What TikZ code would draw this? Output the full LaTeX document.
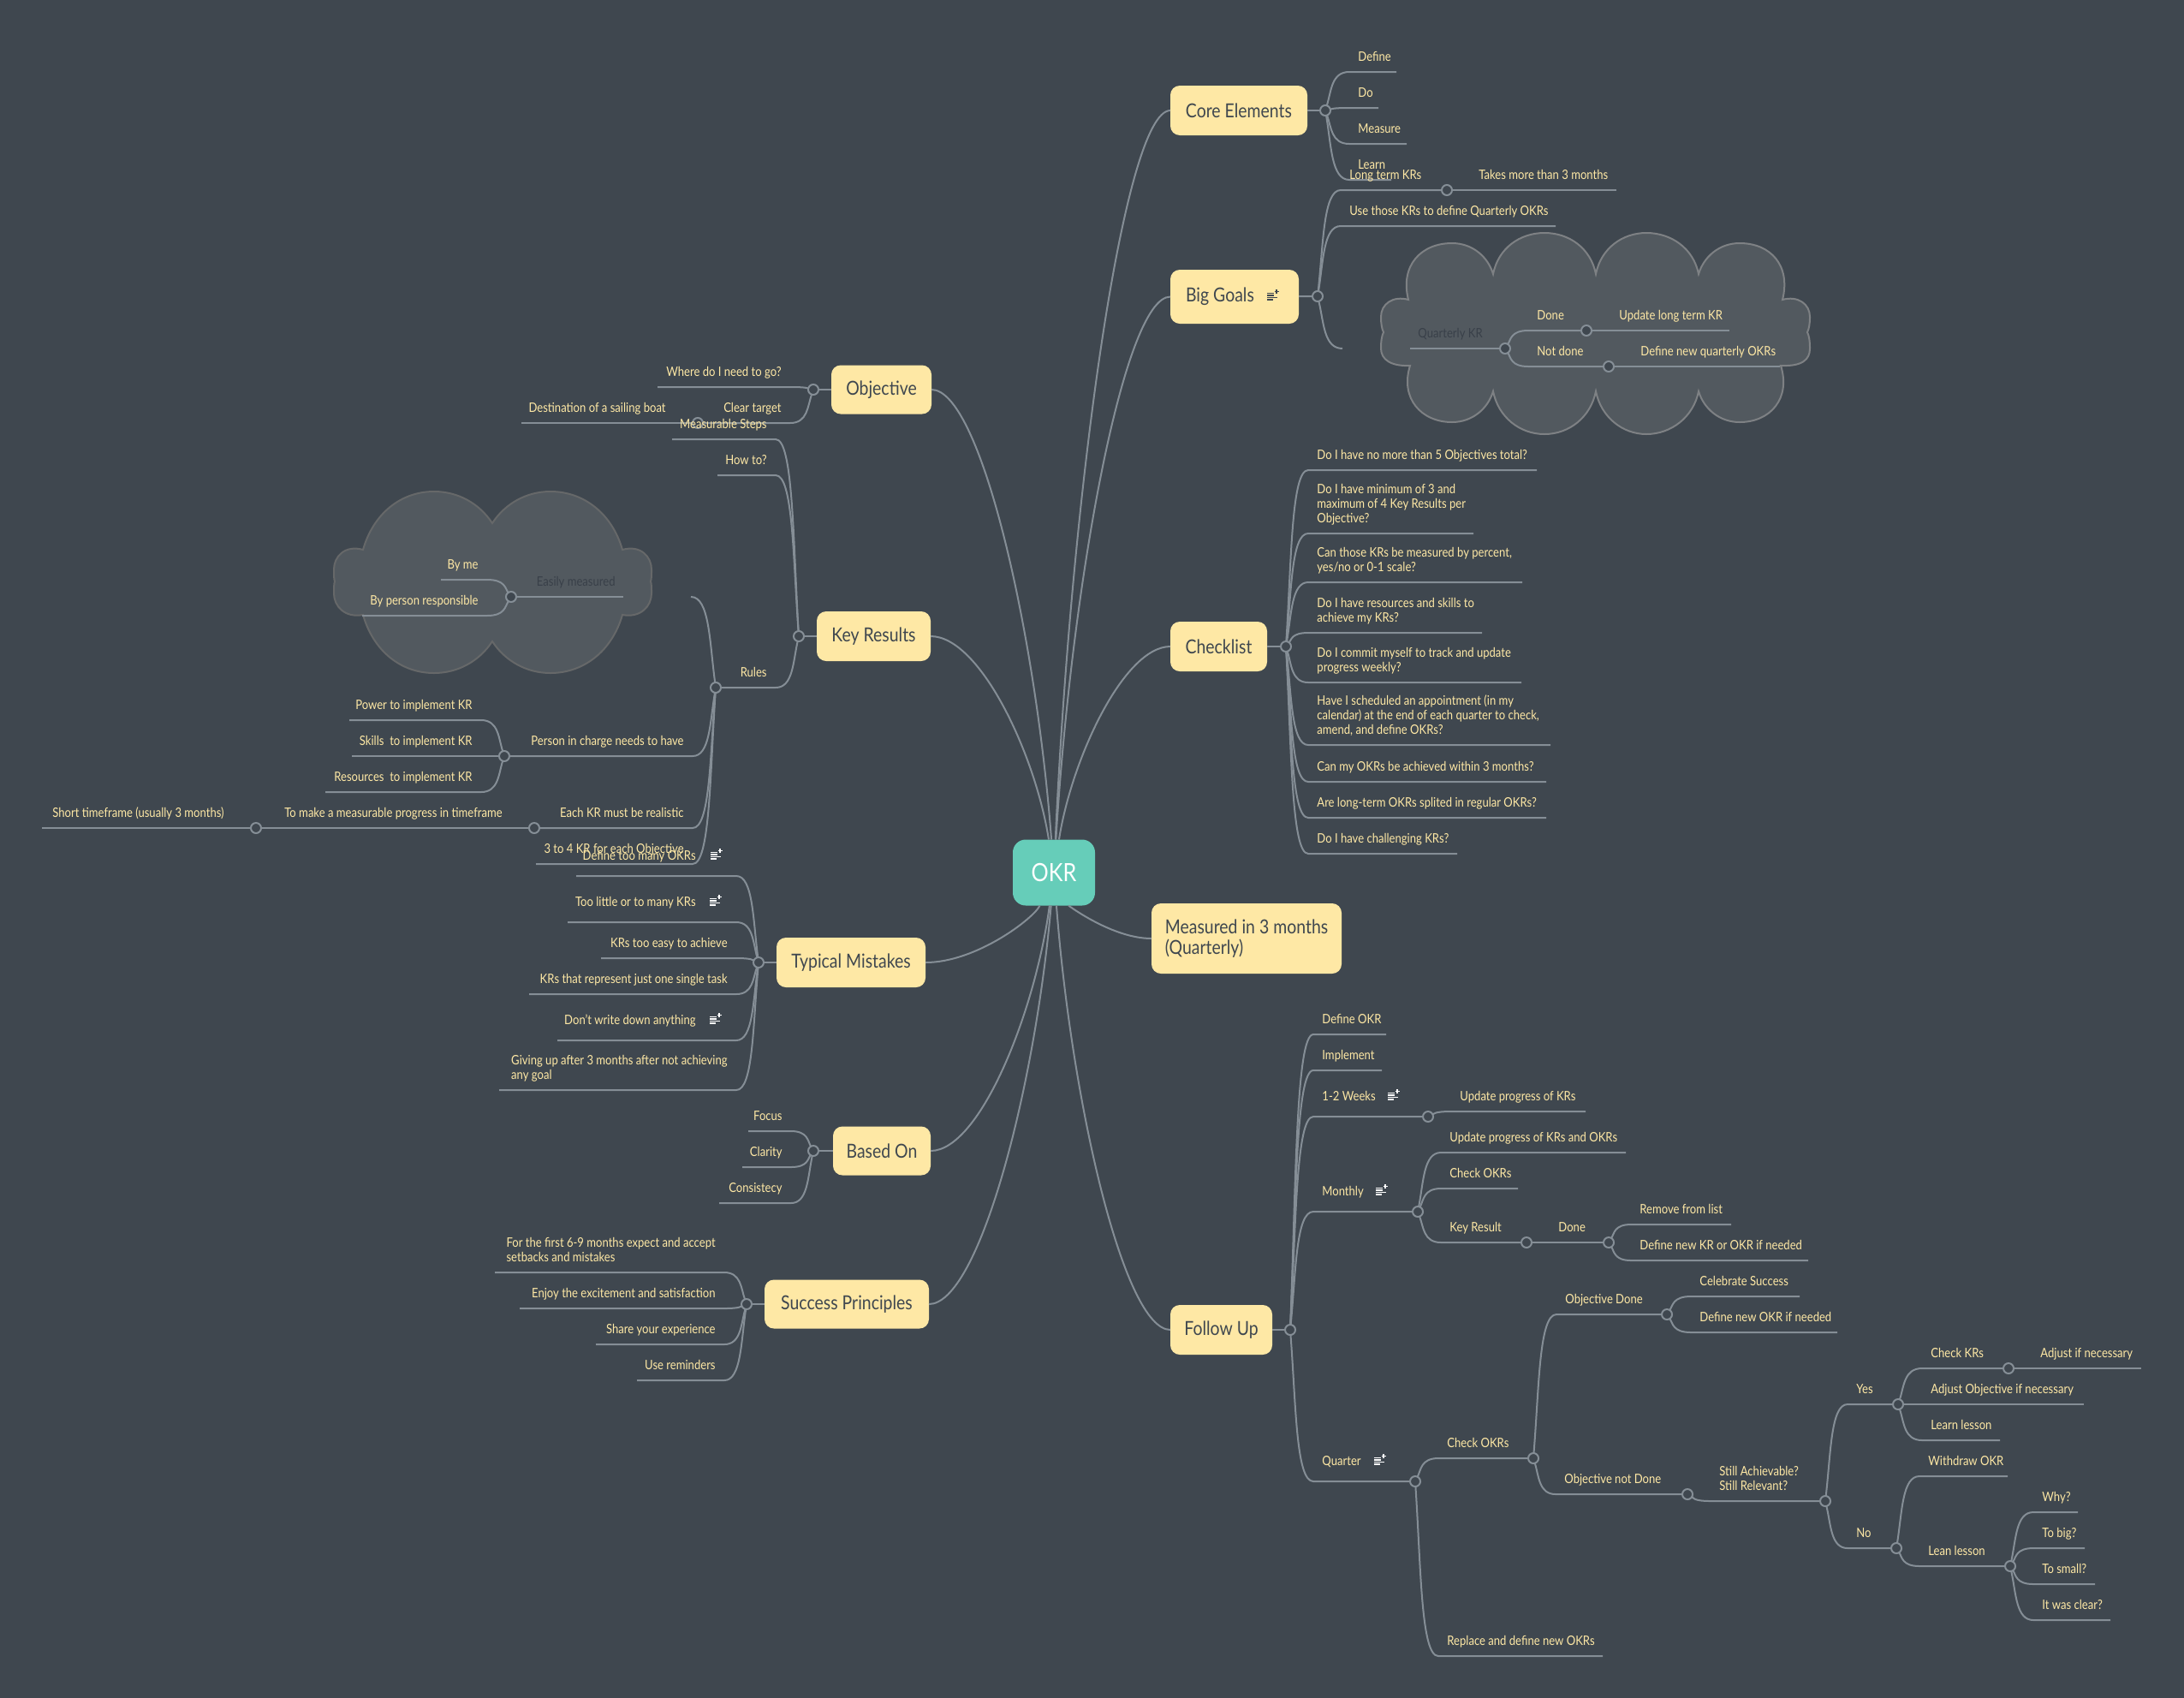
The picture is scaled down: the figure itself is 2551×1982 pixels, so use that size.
\documentclass[tikz,border=0pt]{standalone}
\usepackage{fontspec}
\setmainfont[FakeStretch=0.86]{Lato}
\usetikzlibrary{calc}
\definecolor{bgcol}{HTML}{3F474F}
\definecolor{linecol}{HTML}{858E96}
\definecolor{leafcol}{HTML}{FEE8A5}
\definecolor{inkcol}{HTML}{3F474F}
\definecolor{rootcol}{HTML}{66CDB9}
\definecolor{cloudcol}{HTML}{52595F}
\definecolor{cloudline}{HTML}{7E8184}
\definecolor{cloudlinetwo}{HTML}{666869}
\definecolor{darktext}{HTML}{394049}
\tikzset{
  link/.style={draw=linecol, line width=1pt},
  hub/.style={draw=linecol, circle, fill=bgcol, line width=1pt, minimum size=6pt, inner sep=0pt, outer sep=0pt},
  topic/.style={fill=leafcol, text=inkcol, rounded corners=5.5pt, inner sep=0pt, outer sep=0pt, font=\fontsize{11.3}{12}\selectfont},
  root/.style={fill=rootcol, text=white, rounded corners=7.5pt, inner sep=0pt, outer sep=0pt, font=\fontsize{14.65}{16}\selectfont},
  leaf/.style={text=leafcol, inner sep=0pt, align=left, font=\fontsize{7.6}{8.3}\selectfont},
  cloudfill/.style={fill=cloudcol, draw=cloudline, line width=1pt},
}
\newcommand{\twig}[4]{\draw[link] let \p1=(#1.center), \p2=(#3,#4) in (#1) .. controls ({\x1+.25*(\x2-\x1)},{\y1+.5*(\y2-\y1)}) and ({\x1+.25*(\x2-\x1)},\y2) .. (\p2) -- (#2);}
\newcommand{\rleaf}[6]{\coordinate (#2) at (#4,#5); \twig{#1}{#2}{#3}{#5} \node[leaf, anchor=base west] (#2t) at ({#3+10},{#5-13}) {#6};}
\newcommand{\lleaf}[6]{\coordinate (#2) at (#4,#5); \twig{#1}{#2}{#3}{#5} \node[leaf, anchor=base east] (#2t) at ({#3-10},{#5-13}) {#6};}
\newcommand{\rhub}[6]{\node[hub] (#2) at (#4,#5) {}; \twig{#1}{#2}{#3}{#5} \node[leaf, anchor=base west] (#2t) at ({#3+10},{#5-13}) {#6};}
\newcommand{\lhub}[6]{\node[hub] (#2) at (#4,#5) {}; \twig{#1}{#2}{#3}{#5} \node[leaf, anchor=base east] (#2t) at ({#3-10},{#5-13}) {#6};}
\newcommand{\rootlink}[1]{\draw[link] let \p1=(okr.center), \p2=(#1) in (okr) .. controls ({\x1+.15*(\x2-\x1)},{\y1+.5*(\y2-\y1)}) and ({\x1+.6*(\x2-\x1)},\y2) .. (#1);}
\newcommand{\noteicon}[3]{\begin{scope}[shift={(#1,#2)}, draw=#3, line width=0.55pt]
  \draw (-6,-2.7) -- (2,-2.7); \draw (-6,0) -- (2,0); \draw (-6,2.5) -- (6,2.5); \draw (-6,5) -- (1,5);
  \draw (2.5,-4.5) -- (7.5,-4.5); \draw (5,-7) -- (5,-2);
\end{scope}}

\begin{document}
\begin{tikzpicture}[x=0.5pt, y=-0.5pt]
\useasboundingbox (0,0) rectangle (2551,1982);
\fill[bgcol] (-5,-5) rectangle (2556,1987);

\path[cloudfill] (1645,350) .. controls (1635,310) and (1660,284) .. (1696,284) .. controls (1720,284) and (1738,300) .. (1744,320)
  .. controls (1750,290) and (1775,272) .. (1804,272) .. controls (1833,272) and (1858,290) .. (1864,320)
  .. controls (1870,290) and (1895,272) .. (1923,272) .. controls (1952,272) and (1978,290) .. (1984,320)
  .. controls (1990,300) and (2008,284) .. (2032,284) .. controls (2068,284) and (2092,310) .. (2082,350)
  .. controls (2100,345) and (2114,355) .. (2114,370) .. controls (2114,378) and (2113,384) .. (2111,388)
  .. controls (2113,392) and (2114,398) .. (2114,407) .. controls (2114,420) and (2105,428) .. (2080,427)
  .. controls (2092,465) and (2068,493) .. (2032,493) .. controls (2008,493) and (1990,477) .. (1984,457)
  .. controls (1978,487) and (1952,507) .. (1923,507) .. controls (1895,507) and (1870,487) .. (1864,457)
  .. controls (1858,487) and (1833,507) .. (1804,507) .. controls (1775,507) and (1750,487) .. (1744,457)
  .. controls (1738,477) and (1720,493) .. (1696,493) .. controls (1660,493) and (1635,465) .. (1647,427)
  .. controls (1625,428) and (1613,420) .. (1613,407) .. controls (1613,398) and (1614,392) .. (1616,388)
  .. controls (1614,384) and (1613,378) .. (1613,370) .. controls (1613,355) and (1627,345) .. (1645,350) -- cycle;
\path[cloudfill, draw=cloudlinetwo] (424,642) .. controls (436,600) and (468,574) .. (507,574) .. controls (535,574) and (560,588) .. (575,611)
  .. controls (590,588) and (615,574) .. (643,574) .. controls (682,574) and (715,600) .. (727,642)
  .. controls (748,636) and (761,650) .. (761,665) .. controls (761,672) and (761,676) .. (760,679)
  .. controls (761,682) and (761,686) .. (761,693) .. controls (761,708) and (748,722) .. (727,718)
  .. controls (715,760) and (682,786) .. (643,786) .. controls (615,786) and (590,772) .. (575,749)
  .. controls (560,772) and (535,786) .. (507,786) .. controls (468,786) and (436,760) .. (424,718)
  .. controls (403,722) and (390,708) .. (390,693) .. controls (390,686) and (390,682) .. (391,679)
  .. controls (390,676) and (390,672) .. (390,665) .. controls (390,650) and (403,636) .. (424,642) -- cycle;

\node[root, minimum width=48pt, minimum height=38.5pt] (okr) at (1231,1019) {OKR};
\node[topic, minimum width=80pt, minimum height=29pt] (core) at (1447,129) {Core Elements};
\node[topic, minimum width=75pt, minimum height=31.5pt] (goals) at (1442,346.5) {Big Goals\hspace*{17pt}};
\node[topic, minimum width=56.5pt, minimum height=29pt] (check) at (1423.5,755) {Checklist};
\node[topic, minimum width=111pt, minimum height=41pt, align=left] (measured) at (1456,1096) {Measured in 3 months\\(Quarterly)};
\node[topic, minimum width=59.5pt, minimum height=29pt] (follow) at (1426.5,1553) {Follow Up};
\node[topic, minimum width=58.5pt, minimum height=28.5pt] (objective) at (1029.5,455) {Objective};
\node[topic, minimum width=66.5pt, minimum height=29pt] (results) at (1020.5,743) {Key Results};
\node[topic, minimum width=87pt, minimum height=29pt] (mistakes) at (994,1124) {Typical Mistakes};
\node[topic, minimum width=57pt, minimum height=28.5pt] (based) at (1030,1344) {Based On};
\node[topic, minimum width=96pt, minimum height=28.5pt] (success) at (989,1523) {Success Principles};

\rootlink{core.west}
\rootlink{goals.west}
\rootlink{check.west}
\rootlink{measured.west}
\rootlink{follow.west}
\rootlink{objective.east}
\rootlink{results.east}
\rootlink{mistakes.east}
\rootlink{based.east}
\rootlink{success.east}

\node[hub] (hcore) at (1548,129) {};
\draw[link] (core) -- (hcore);
\rleaf{hcore}{define}{1576}{1631}{84}{Define}
\rleaf{hcore}{do}{1576}{1610}{126}{Do}
\rleaf{hcore}{measure}{1576}{1643}{168}{Measure}
\rleaf{hcore}{learn}{1576}{1625}{210}{Learn}

\node[hub] (hgoals) at (1539,346) {};
\draw[link] (goals) -- (hgoals);
\noteicon{1486}{345}{inkcol}
\rhub{hgoals}{longterm}{1566}{1690}{222}{Long term KRs}
\rleaf{longterm}{takes}{1717}{1888}{222}{Takes more than 3 months}
\rleaf{hgoals}{usekrs}{1566}{1817}{264}{Use those KRs to define Quarterly OKRs}
\coordinate (qend) at (1568,407);
\twig{hgoals}{qend}{1568}{407}
\coordinate (qstart) at (1647,407);
\node[hub] (hquarterly) at (1758,407) {};
\draw[link] (qstart) -- (hquarterly);
\node[leaf, text=darktext, anchor=base west] (qtext) at (1656,394) {Quarterly KR};
\rhub{hquarterly}{done}{1785}{1853}{386}{Done}
\rleaf{done}{update}{1881}{2020}{386}{Update long term KR}
\rhub{hquarterly}{notdone}{1785}{1879}{428}{Not done}
\rleaf{notdone}{newquarter}{1906}{2079}{428}{Define new quarterly OKRs}

\node[hub] (hcheck) at (1502,755) {};
\draw[link] (check) -- (hcheck);
\rleaf{hcheck}{cone}{1528}{1795}{549}{Do I have no more than 5 Objectives total?}
\rleaf{hcheck}{ctwo}{1528}{1721}{623}{Do I have minimum of 3 and\\maximum of 4 Key Results per\\Objective?}
\rleaf{hcheck}{cthree}{1528}{1778}{680}{Can those KRs be measured by percent,\\yes/no or 0-1 scale?}
\rleaf{hcheck}{cfour}{1528}{1731}{739}{Do I have resources and skills to\\achieve my KRs?}
\rleaf{hcheck}{cfive}{1528}{1777}{797}{Do I commit myself to track and update\\progress weekly?}
\rleaf{hcheck}{csix}{1528}{1811}{870}{Have I scheduled an appointment (in my\\calendar) at the end of each quarter to check,\\amend, and define OKRs?}
\rleaf{hcheck}{cseven}{1528}{1806}{913}{Can my OKRs be achieved within 3 months?}
\rleaf{hcheck}{ceight}{1528}{1806}{955}{Are long-term OKRs splited in regular OKRs?}
\rleaf{hcheck}{cnine}{1528}{1702}{997}{Do I have challenging KRs?}

\node[hub] (hfollow) at (1507,1553) {};
\draw[link] (follow) -- (hfollow);
\rleaf{hfollow}{defokr}{1534}{1619}{1208}{Define OKR}
\rleaf{hfollow}{implement}{1534}{1614}{1250}{Implement}
\rhub{hfollow}{weeks}{1534}{1668}{1304}{}
\node[leaf, anchor=base west] (weekst) at (1544,1285) {1-2 Weeks};
\noteicon{1627}{1279}{white}
\rleaf{weeks}{progress}{1695}{1852}{1298}{Update progress of KRs}
\rhub{hfollow}{monthly}{1534}{1656}{1415}{}
\node[leaf, anchor=base west] (monthlyt) at (1544,1396) {Monthly};
\noteicon{1613}{1390}{white}
\rleaf{monthly}{progressall}{1683}{1899}{1346}{Update progress of KRs and OKRs}
\rleaf{monthly}{checkokr}{1683}{1773}{1388}{Check OKRs}
\rhub{monthly}{keyresult}{1683}{1783}{1451}{Key Result}
\rhub{keyresult}{krdone}{1810}{1879}{1451}{Done}
\rleaf{krdone}{removelist}{1905}{2022}{1430}{Remove from list}
\rleaf{krdone}{newkr}{1905}{2112}{1472}{Define new KR or OKR if needed}
\rhub{hfollow}{quarter}{1534}{1653}{1730}{}
\node[leaf, anchor=base west] (quartert) at (1544,1711) {Quarter};
\noteicon{1611}{1705}{white}
\rhub{quarter}{checkokrs}{1680}{1791}{1703}{Check OKRs}
\rhub{checkokrs}{objdone}{1818}{1947}{1535}{Objective Done}
\rleaf{objdone}{celebrate}{1975}{2102}{1514}{Celebrate Success}
\rleaf{objdone}{newokr}{1975}{2146}{1556}{Define new OKR if needed}
\rhub{checkokrs}{objnot}{1817}{1971}{1745}{Objective not Done}
\rhub{objnot}{still}{1998}{2132}{1753}{Still Achievable?\\Still Relevant?}
\rhub{still}{yes}{2158}{2217}{1640}{Yes}
\rhub{yes}{checkkrs}{2245}{2346}{1598}{Check KRs}
\rleaf{checkkrs}{adjust}{2373}{2501}{1598}{Adjust if necessary}
\rleaf{yes}{adjustobj}{2245}{2434}{1640}{Adjust Objective if necessary}
\rleaf{yes}{learnlesson}{2245}{2336}{1682}{Learn lesson}
\rhub{still}{nope}{2158}{2215}{1808}{No}
\rleaf{nope}{withdraw}{2242}{2345}{1724}{Withdraw OKR}
\rhub{nope}{leanlesson}{2242}{2348}{1829}{Lean lesson}
\rleaf{leanlesson}{why}{2375}{2427}{1766}{Why?}
\rleaf{leanlesson}{tobig}{2375}{2435}{1808}{To big?}
\rleaf{leanlesson}{tosmall}{2375}{2447}{1850}{To small?}
\rleaf{leanlesson}{wasclear}{2375}{2465}{1892}{It was clear?}
\rleaf{quarter}{replace}{1680}{1872}{1934}{Replace and define new OKRs}

\node[hub] (hobjective) at (950,455) {};
\draw[link] (objective) -- (hobjective);
\lleaf{hobjective}{whereto}{923}{768}{452}{Where do I need to go?}
\lhub{hobjective}{cleartarget}{923}{815}{494}{Clear target}
\lleaf{cleartarget}{sailing}{788}{609}{494}{Destination of a sailing boat}

\node[hub] (hresults) at (933,743) {};
\draw[link] (results) -- (hresults);
\lleaf{hresults}{steps}{906}{785}{513}{Measurable Steps}
\lleaf{hresults}{howto}{906}{838}{555}{How to?}
\lhub{hresults}{rules}{906}{836}{803}{Rules}
\coordinate (eend) at (807,697);
\twig{rules}{eend}{807}{697}
\coordinate (estart) at (728,697);
\node[hub] (heasily) at (597,697) {};
\draw[link] (estart) -- (heasily);
\node[leaf, text=darktext, anchor=base east] (etext) at (719,684) {Easily measured};
\lleaf{heasily}{byme}{569}{515}{677}{By me}
\lleaf{heasily}{byperson}{569}{423}{719}{By person responsible}
\lhub{rules}{person}{809}{589}{883}{Person in charge needs to have}
\lleaf{person}{power}{562}{408}{841}{Power to implement KR}
\lleaf{person}{skills}{562}{411}{883}{Skills\ \ to implement KR}
\lleaf{person}{resources}{562}{380}{925}{Resources\ \ to implement KR}
\lhub{rules}{realistic}{809}{624}{967}{Each KR must be realistic}
\lhub{realistic}{progressmake}{597}{299}{967}{To make a measurable progress in timeframe}
\lleaf{progressmake}{timeframe}{272}{49}{967}{Short timeframe (usually 3 months)}
\lleaf{rules}{krcount}{809}{626}{1009}{3 to 4 KR for each Objective}

\node[hub] (hmistakes) at (886,1124) {};
\draw[link] (mistakes) -- (hmistakes);
\lleaf{hmistakes}{toomany}{860}{673}{1023}{}
\node[leaf, anchor=base east] (toomanyt) at (813,1004) {Define too many OKRs};
\noteicon{836}{998}{white}
\lleaf{hmistakes}{toolittle}{860}{663}{1077}{}
\node[leaf, anchor=base east] (toolittlet) at (813,1058) {Too little or to many KRs};
\noteicon{835}{1052}{white}
\lleaf{hmistakes}{tooeasy}{860}{702}{1119}{KRs too easy to achieve}
\lleaf{hmistakes}{singletask}{860}{618}{1161}{KRs that represent just one single task}
\lleaf{hmistakes}{notwrite}{860}{651}{1215}{}
\node[leaf, anchor=base east] (notwritet) at (813,1196) {Don't write down anything};
\noteicon{835}{1190}{white}
\lleaf{hmistakes}{givingup}{860}{583}{1273}{Giving up after 3 months after not achieving\\any goal}

\node[hub] (hbased) at (950,1344) {};
\draw[link] (based) -- (hbased);
\lleaf{hbased}{focus}{924}{874}{1321}{Focus}
\lleaf{hbased}{clarity}{924}{867}{1363}{Clarity}
\lleaf{hbased}{consistecy}{924}{840}{1405}{Consistecy}

\node[hub] (hsuccess) at (872,1523) {};
\draw[link] (success) -- (hsuccess);
\lleaf{hsuccess}{firstmonths}{846}{578}{1486}{For the first 6-9 months expect and accept\\setbacks and mistakes}
\lleaf{hsuccess}{enjoy}{846}{607}{1528}{Enjoy the excitement and satisfaction}
\lleaf{hsuccess}{share}{846}{696}{1570}{Share your experience}
\lleaf{hsuccess}{reminders}{846}{744}{1612}{Use reminders}
\end{tikzpicture}
\end{document}
